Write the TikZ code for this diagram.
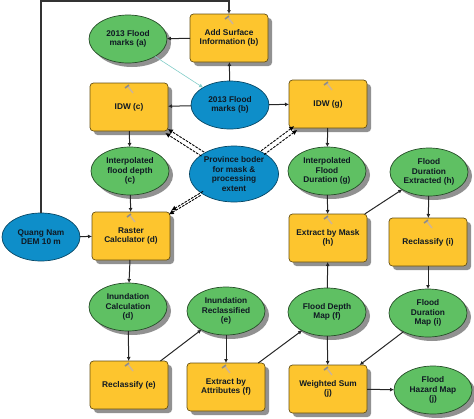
\documentclass[tikz,border=0pt]{standalone}
\usepackage{fontspec}
\setmainfont{Liberation Sans}
\usepackage{xcolor}
\usetikzlibrary{arrows.meta, positioning, shapes.geometric, backgrounds}
\definecolor{boxyellow}{RGB}{253,197,46}
\definecolor{ovalgreen}{RGB}{95,192,99}
\definecolor{ovalblue}{RGB}{14,142,201}
\definecolor{edgeteal}{RGB}{130,205,200}
\definecolor{labelink}{RGB}{15,25,35}
\definecolor{handletan}{RGB}{205,180,150}
\definecolor{shadowgray}{RGB}{145,145,145}

\begin{document}
\begin{tikzpicture}[
    x=1pt, y=1pt,
    node distance=20pt and 20pt,
    every node/.style={outer sep=0pt, inner sep=1pt, align=center, text=labelink, font=\fontsize{8.3}{9.4}\selectfont\bfseries},
    tool/.style={rectangle, rounded corners=3.5pt, draw=black!60!boxyellow, line width=0.7pt, fill=boxyellow, minimum width=78pt, minimum height=48pt},
    output/.style={ellipse, draw=black!60!ovalgreen, line width=0.7pt, fill=ovalgreen, minimum width=78pt, minimum height=48pt},
    input/.style={ellipse, draw=black!50!ovalblue, line width=0.7pt, fill=ovalblue, minimum width=78pt, minimum height=48pt},
    harrow/.style={-{Latex[length=4pt,width=4pt]}, line width=1pt, draw=black!85},
    toparrow/.style={-{Latex[length=4pt,width=4pt]}, line width=1.6pt, draw=black!80},
    tealarrow/.style={-{Latex[length=4pt,width=4pt]}, line width=0.6pt, draw=edgeteal},
    maskarrow/.style={-{Latex[length=5pt,width=5pt]}, line width=0.9pt, dash pattern=on 2.6pt off 1.2pt, draw=black},
    hammer/.pic={
      \draw[line width=1.5pt, draw=handletan] (-1,-3.5) -- (4,-10);
      \draw[line width=1.6pt, draw=black!45] (-4,-5) -- (0,-2);
    }
]
\useasboundingbox (0,0) rectangle (474,-418);

\node[tool] at (229,-38) (addsurf) {Add Surface\\Information (b)};
\node[output,left=23pt of addsurf,yshift=-1pt] (marksa) {2013 Flood\\marks (a)};
\node[input,below=19pt of addsurf,xshift=1pt] (marksb) {2013 Flood\\marks (b)};
\node[tool,left=23pt of marksb,yshift=-2pt] (idwc) {IDW (c)};
\node[tool,right=20pt of marksb,yshift=1pt] (idwg) {IDW (g)};
\node[output,below=16pt of idwc,xshift=1pt] (depthc) {Interpolated\\flood depth\\(c)};
\node[input,below=17pt of marksb,xshift=4pt,minimum width=89pt,minimum height=56pt] (province) {Province boder\\for mask \&\\processing\\extent};
\node[output,below=19pt of idwg,xshift=-1pt] (durationg) {Interpolated\\Flood\\Duration (g)};
\node[output,right=24pt of durationg,yshift=-1pt] (durationh) {Flood\\Duration\\Extracted (h)};
\node[tool,below=17pt of depthc,xshift=1pt] (raster) {Raster\\Calculator (d)};
\node[input,left=12pt of raster,yshift=-1pt] (dem) {Quang Nam\\DEM 10 m};
\node[tool,below=19pt of durationg,xshift=1pt] (maskh) {Extract by Mask\\(h)};
\node[tool,below=22pt of durationh,xshift=-1pt] (reclassi) {Reclassify (i)};
\node[output,below=23pt of raster,xshift=-3pt] (inundd) {Inundation\\Calculation\\(d)};
\node[output,right=20pt of inundd,yshift=-4pt] (inunde) {Inundation\\Reclassified\\(e)};
\node[output,below=26pt of maskh,xshift=-1pt] (depthf) {Flood Depth\\Map (f)};
\node[output,below=23pt of reclassi] (mapi) {Flood\\Duration\\Map (i)};
\node[tool,below=30pt of inundd,xshift=1pt] (reclasse) {Reclassify (e)};
\node[tool,below=28pt of inunde] (attrf) {Extract by\\Attributes (f)};
\node[tool,below=29pt of depthf,xshift=1pt] (sumj) {Weighted Sum\\(j)};
\node[output,right=27pt of sumj,yshift=-1pt] (hazard) {Flood\\Hazard Map\\(j)};

\coordinate (topleft) at (dem.north |- 0,-1);
\coordinate (topright) at (addsurf.north |- 0,-1);

\begin{scope}[on background layer]
\foreach \boxname in {addsurf,idwc,idwg,raster,maskh,reclassi,reclasse,attrf,sumj}
    \fill[shadowgray,rounded corners=3.5pt] ([shift={(4,-4)}]\boxname.south west) rectangle ([shift={(4,-4)}]\boxname.north east);
\foreach \ovalname in {marksa,depthc,durationg,durationh,inundd,inunde,depthf,mapi,hazard}
    \fill[shadowgray] ([shift={(4,-4)}]\ovalname.center) ellipse [x radius=39, y radius=24];
\end{scope}

\draw[toparrow] (dem.north) -- (topleft) -- (topright) -- (addsurf.north);
\draw[harrow] (addsurf) -- (marksa);
\draw[harrow] (marksb) -- (addsurf);
\draw[tealarrow] (marksa) -- (marksb);
\draw[harrow] (marksb) -- (idwc);
\draw[harrow] (marksb) -- (idwg);
\draw[harrow] (idwc) -- (depthc);
\draw[harrow] (idwg) -- (durationg);
\draw[harrow] (depthc) -- (raster);
\draw[harrow] (dem) -- (raster);
\draw[harrow] (raster) -- (inundd);
\draw[harrow] (inundd) -- (reclasse);
\draw[harrow] (reclasse) -- (inunde);
\draw[harrow] (inunde) -- (attrf);
\draw[harrow] (attrf) -- (depthf);
\draw[harrow] (depthf) -- (maskh);
\draw[harrow] (depthf) -- (sumj);
\draw[harrow] (durationg) -- (maskh);
\draw[harrow] (maskh) -- (durationh);
\draw[harrow] (durationh) -- (reclassi);
\draw[harrow] (reclassi) -- (mapi);
\draw[harrow] (mapi) -- (sumj);
\draw[harrow] (sumj) -- (hazard);

\draw[maskarrow,transform canvas={shift={(1.3pt,2pt)}}] (province) -- (idwc);
\draw[maskarrow,transform canvas={shift={(-1.3pt,-2pt)}}] (province) -- (idwc);
\draw[maskarrow,transform canvas={shift={(-1.5pt,1.9pt)}}] (province) -- (idwg);
\draw[maskarrow,transform canvas={shift={(1.5pt,-1.9pt)}}] (province) -- (idwg);
\draw[maskarrow,transform canvas={shift={(-1.2pt,-2pt)}}] (province) -- (raster);
\draw[maskarrow,transform canvas={shift={(1.2pt,2pt)}}] (province) -- (raster);

\foreach \boxname in {addsurf,idwc,idwg,raster,maskh,reclassi,reclasse,attrf,sumj}
    \pic at (\boxname.north) {hammer};
\end{tikzpicture}
\end{document}
